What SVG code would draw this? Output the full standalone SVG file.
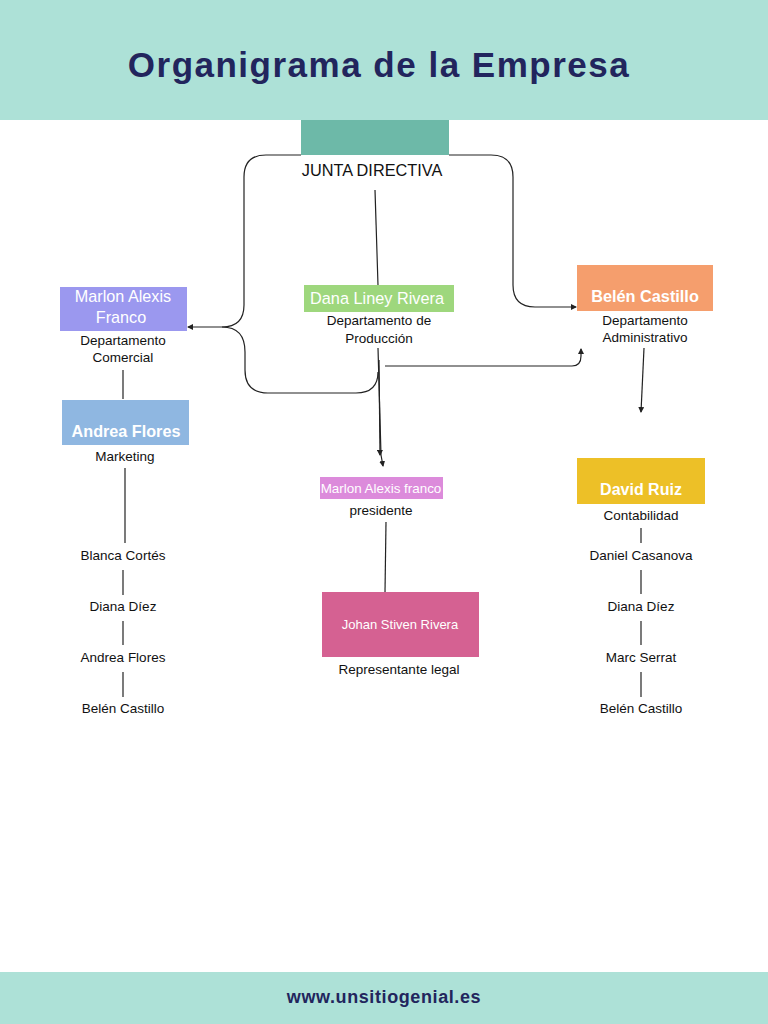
<svg xmlns="http://www.w3.org/2000/svg" width="768" height="1024" viewBox="0 0 768 1024">
<defs>
<style>
.t{font-family:"Liberation Sans",Arial,sans-serif;fill:#111;font-size:13.5px;text-anchor:middle}
.w{font-family:"Liberation Sans",Arial,sans-serif;fill:#fff;text-anchor:middle}
.b{font-weight:bold}
.c{fill:none;stroke:#222;stroke-width:1.2}
</style>
<marker id="ah" viewBox="0 0 6 6" refX="5" refY="3" markerWidth="5" markerHeight="5" orient="auto">
<path d="M0,0 L6,3 L0,6 z" fill="#222"/>
</marker>
</defs>
<rect width="768" height="1024" fill="#fff"/>
<rect x="0" y="0" width="768" height="120" fill="#ADE1D7"/>
<text x="379" y="77" font-family="'Liberation Sans',Arial,sans-serif" font-weight="bold" font-size="35" letter-spacing="1.5" fill="#22255D" text-anchor="middle">Organigrama de la Empresa</text>
<rect x="0" y="972" width="768" height="52" fill="#ADE1D7"/>
<text x="384" y="1003" font-family="'Liberation Sans',Arial,sans-serif" font-weight="bold" font-size="18" letter-spacing="0.6" fill="#22255D" text-anchor="middle">www.unsitiogenial.es</text>

<g id="connectors">
<path class="c" d="M301,155 H266 Q244,155 244,177 V305 Q244,327 222,327 H188" marker-end="url(#ah)"/>
<path class="c" d="M449,155 H491 Q513,155 513,177 V285 Q513,307 535,307 H576" marker-end="url(#ah)"/>
<path class="c" d="M222,327 Q245,327 245,352 V370 Q245,393 268,393 H356 Q378,393 378,372"/>
<path class="c" d="M375,190 L378,285"/>
<path class="c" d="M378,348 L381,455 L383,466" marker-end="url(#ah)"/>
<path class="c" d="M379,360 L380,455" marker-end="url(#ah)"/>
<path class="c" d="M385,366 H572 Q581,366 581,356 V349" marker-end="url(#ah)"/>
<path class="c" d="M644,348 L641,412" marker-end="url(#ah)"/>
<path class="c" d="M123,370 V399"/>
<path class="c" d="M125,468 V543"/>
<path class="c" d="M123,570 V595"/>
<path class="c" d="M123,621 V645"/>
<path class="c" d="M123,672 V697"/>
<path class="c" d="M641,528 V543"/>
<path class="c" d="M641,570 V594"/>
<path class="c" d="M641,621 V645"/>
<path class="c" d="M641,672 V697"/>
<path class="c" d="M386,522 L385,592"/>
</g>

<g id="junta">
<rect x="301" y="120" width="148" height="35" fill="#6DB9A8"/>
<text class="t" x="372" y="176" style="font-size:16.3px">JUNTA DIRECTIVA</text>
</g>

<g id="marlon-comercial">
<rect x="60" y="287" width="127" height="44" fill="#9B98EF"/>
<text class="w" x="123" y="302" font-size="16.2">Marlon Alexis</text>
<text class="w" x="121" y="323" font-size="16.2">Franco</text>
<text class="t" x="123" y="345">Departamento</text>
<text class="t" x="123" y="362">Comercial</text>
</g>

<g id="dana">
<rect x="304" y="285" width="150" height="27" fill="#9ED77D"/>
<text class="w" x="377" y="304" font-size="16.3">Dana Liney Rivera</text>
<text class="t" x="379" y="325">Departamento de</text>
<text class="t" x="379" y="343">Producción</text>
</g>

<g id="belen">
<rect x="577" y="265" width="136" height="46" fill="#F59E6D"/>
<text class="w b" x="645" y="302" font-size="16.3">Belén Castillo</text>
<text class="t" x="645" y="325">Departamento</text>
<text class="t" x="645" y="342">Administrativo</text>
</g>

<g id="andrea">
<rect x="62" y="400" width="127" height="45" fill="#8FB7E1"/>
<text class="w b" x="126" y="437" font-size="16.2">Andrea Flores</text>
<text class="t" x="125" y="461">Marketing</text>
</g>

<g id="marketing-list">
<text class="t" x="123" y="560">Blanca Cortés</text>
<text class="t" x="123" y="611">Diana Díez</text>
<text class="t" x="123" y="662">Andrea Flores</text>
<text class="t" x="123" y="713">Belén Castillo</text>
</g>

<g id="david">
<rect x="577" y="458" width="128" height="46" fill="#EDC027"/>
<text class="w b" x="641" y="495" font-size="16">David Ruiz</text>
<text class="t" x="641" y="520">Contabilidad</text>
</g>

<g id="contabilidad-list">
<text class="t" x="641" y="560">Daniel Casanova</text>
<text class="t" x="641" y="611">Diana Díez</text>
<text class="t" x="641" y="662">Marc Serrat</text>
<text class="t" x="641" y="713">Belén Castillo</text>
</g>

<g id="marlon-presidente">
<rect x="320" y="477" width="123" height="22" fill="#DC8BDB"/>
<text class="w" x="381" y="493" font-size="13.4">Marlon Alexis franco</text>
<text class="t" x="381" y="515">presidente</text>
</g>

<g id="johan">
<rect x="322" y="592" width="157" height="65" fill="#D56192"/>
<text class="w" x="400" y="629" font-size="13">Johan Stiven Rivera</text>
<text class="t" x="399" y="674">Representante legal</text>
</g>
</svg>
